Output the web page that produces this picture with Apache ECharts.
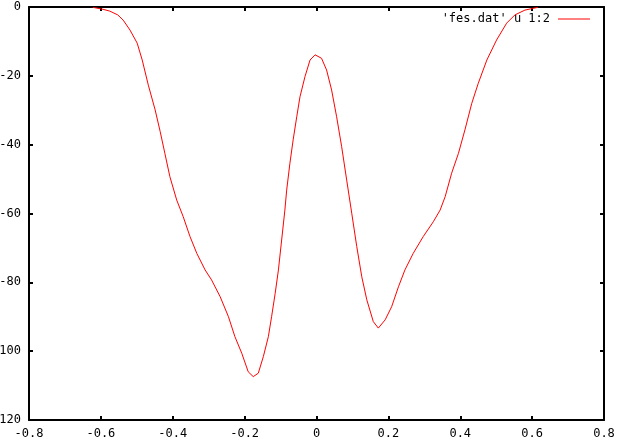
<!DOCTYPE html>
<html>
<head>
<meta charset="utf-8">
<script src="https://cdn.jsdelivr.net/npm/echarts@6/dist/echarts.min.js"></script>
<style>html,body{margin:0;padding:0;background:#fff}#c{width:620px;height:448px}</style>
</head>
<body>
<div id="c"></div>
<script>
var seriesName = "'fes.dat' u 1:2";
var xValues = [-0.622, -0.594, -0.575, -0.553, -0.538, -0.519, -0.499, -0.485, -0.468, -0.449, -0.435, -0.422, -0.408, -0.389, -0.371, -0.352, -0.333, -0.31, -0.292, -0.268, -0.245, -0.227, -0.208, -0.19, -0.176, -0.162, -0.148, -0.134, -0.125, -0.115, -0.106, -0.097, -0.088, -0.083, -0.074, -0.065, -0.055, -0.046, -0.032, -0.018, -0.004, 0.014, 0.028, 0.042, 0.056, 0.07, 0.084, 0.098, 0.112, 0.126, 0.14, 0.158, 0.172, 0.191, 0.209, 0.228, 0.246, 0.269, 0.297, 0.325, 0.344, 0.358, 0.376, 0.395, 0.413, 0.432, 0.45, 0.474, 0.501, 0.529, 0.552, 0.58, 0.602, 0.616];
var yValues = [-0.1, -0.67, -1.2, -2.3, -3.8, -6.7, -10.5, -15.4, -22.7, -29.9, -36.2, -42.5, -49.3, -56.1, -60.9, -66.7, -71.6, -76.4, -79.3, -84.2, -90, -95.8, -100.6, -106, -107.4, -106.4, -101.6, -95.8, -90, -83.2, -76.4, -67.7, -59, -53.2, -45.4, -38.6, -31.9, -26.1, -20.2, -15.4, -13.9, -14.9, -18.3, -24.1, -31.9, -40.6, -50.3, -59.9, -69.6, -78.4, -85.1, -91.4, -93.3, -90.9, -87.1, -81.3, -76.4, -71.6, -66.7, -62.4, -59, -55.1, -48.3, -42.5, -35.7, -28, -22.2, -15.4, -9.6, -4.7, -2.3, -0.9, -0.4, -0.1];
var xTicks = [-0.8, -0.6, -0.4, -0.2, 0, 0.2, 0.4, 0.6, 0.8];
var yTicks = [-120, -100, -80, -60, -40, -20, 0];

var points = xValues.map(function (x, i) { return [x, yValues[i]]; });
var font = "'DejaVu Sans Mono', monospace";
var lineStyle = { color: '#000', width: 2 };
function xAxisCfg(pos, showLabel) {
  return {
    type: 'value', position: pos, min: xTicks[0], max: xTicks[xTicks.length - 1], interval: 0.2,
    axisLine: { show: true, onZero: false, lineStyle: lineStyle },
    axisTick: { show: true, inside: true, length: 4, lineStyle: lineStyle },
    axisLabel: { show: showLabel, margin: 8, color: '#000', fontFamily: font, fontSize: 12,
      formatter: function (v) { return String(Math.round(v * 10) / 10); } },
    splitLine: { show: false }
  };
}
function yAxisCfg(pos, showLabel) {
  return {
    type: 'value', position: pos, min: yTicks[0], max: yTicks[yTicks.length - 1], interval: 20,
    axisLine: { show: true, onZero: false, lineStyle: lineStyle },
    axisTick: { show: true, inside: true, length: 4, lineStyle: lineStyle },
    axisLabel: { show: showLabel, margin: 8, color: '#000', fontFamily: font, fontSize: 12 },
    splitLine: { show: false }
  };
}
var chart = echarts.init(document.getElementById('c'), null, { renderer: 'canvas' });
chart.setOption({
  animation: false,
  backgroundColor: '#fff',
  grid: { left: 29, right: 16, top: 7, bottom: 28, containLabel: false, outerBoundsMode: 'none' },
  legend: {
    show: true, right: 25, top: 8, align: 'right', itemWidth: 32, itemHeight: 1, itemGap: 8,
    icon: 'rect',
    itemStyle: { color: '#ff0000' },
    lineStyle: { color: '#ff0000', width: 1 },
    textStyle: { fontFamily: font, fontSize: 12, color: '#000', padding: [0, 3, 0, 0] },
    data: [seriesName]
  },
  xAxis: [xAxisCfg('bottom', true), xAxisCfg('top', false)],
  yAxis: [yAxisCfg('left', true), yAxisCfg('right', false)],
  series: [{
    name: seriesName, type: 'line', data: points, symbol: 'none', smooth: false,
    xAxisIndex: 0, yAxisIndex: 0,
    lineStyle: { color: '#ff0000', width: 1 }, itemStyle: { color: '#ff0000' }
  }]
});
</script>
</body>
</html>
